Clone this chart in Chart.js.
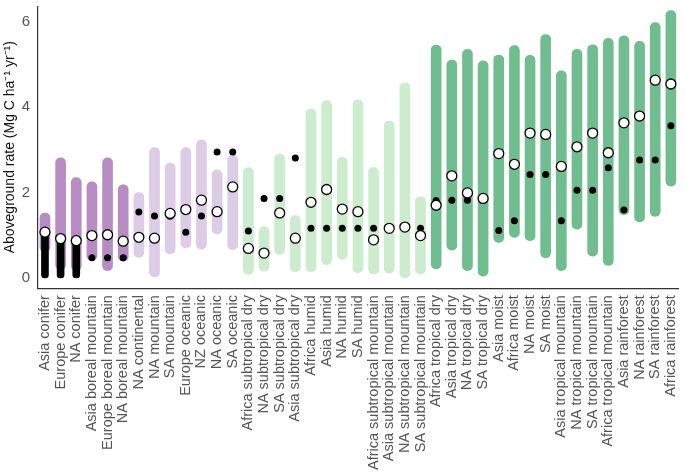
<!DOCTYPE html>
<html>
<head>
<meta charset="utf-8">
<script src="https://cdn.jsdelivr.net/npm/chart.js@4/dist/chart.umd.min.js"></script>
<style>
  html, body { margin: 0; padding: 0; background: #fff; }
  #wrap { width: 685px; height: 472px; }
</style>
</head>
<body>
<div id="wrap"><canvas id="chart"></canvas></div>
<script>
// 생태구역별 지상부 탄소 축적률

const categories = [
  "Asia conifer", "Europe conifer", "NA conifer", "Asia boreal mountain",
  "Europe boreal mountain", "NA boreal mountain",
  "NA continental", "NA mountain", "SA mountain", "Europe oceanic",
  "NZ oceanic", "NA oceanic", "SA oceanic",
  "Africa subtropical dry", "NA subtropical dry", "SA subtropical dry",
  "Asia subtropical dry", "Africa humid", "Asia humid", "NA humid", "SA humid",
  "Africa subtropical mountain", "Asia subtropical mountain",
  "NA subtropical mountain", "SA subtropical mountain",
  "Africa tropical dry", "Asia tropical dry", "NA tropical dry", "SA tropical dry",
  "Asia moist", "Africa moist", "NA moist", "SA moist",
  "Asia tropical mountain", "NA tropical mountain", "SA tropical mountain",
  "Africa tropical mountain", "Asia rainforest", "NA rainforest",
  "SA rainforest", "Africa rainforest",
];

// 범위 (하한, 상한)
const rangeLow = [
  0.61, 0.19, 0.17, 0.41, 0.17, 0.39,
  0.48, 0.02, 0.56, 0.70, 0.67, 1.03, 0.66,
  0.08, 0.16, 0.55, 0.14, 0.14, 0.31, 0.43, 0.12, 0.09, 0.11, 0.00, 0.09,
  0.21, 0.65, 0.17, 0.04, 0.83, 0.95, 0.87, 0.47, 0.17, 1.14, 0.51, 0.29,
  1.48, 1.31, 1.44, 2.15,
];
const rangeHigh = [
  1.52, 2.81, 2.35, 2.25, 2.81, 2.18,
  2.00, 3.05, 2.69, 3.05, 3.23, 2.53, 2.88,
  2.58, 1.20, 2.90, 1.46, 3.95, 4.15, 2.82, 4.17, 2.58, 3.67, 4.57, 1.90,
  5.45, 5.10, 5.35, 5.08, 5.22, 5.44, 5.21, 5.70, 4.85, 5.35, 5.46, 5.61,
  5.67, 5.54, 5.98, 6.26,
];

// 흰 원 (평균)
const meanValues = [
  1.07, 0.92, 0.87, 0.99, 1.01, 0.86,
  0.95, 0.93, 1.51, 1.60, 1.82, 1.55, 2.13,
  0.69, 0.58, 1.52, 0.93, 1.77, 2.07, 1.61, 1.55, 0.89, 1.16, 1.19, 0.99,
  1.70, 2.39, 1.99, 1.86, 2.91, 2.66, 3.39, 3.36, 2.61, 3.07, 3.39, 2.93,
  3.63, 3.79, 4.63, 4.54,
];

// 검은 점
const dotValues = [
  null, null, null, 0.47, 0.47, 0.47,
  1.54, 1.45, 1.44, 1.07, 1.45, 2.95, 2.95,
  1.10, 1.86, 1.86, 2.81, 1.16, 1.16, 1.16, 1.16, 1.16, 1.16, 1.16, 1.16,
  1.81, 1.82, 1.82, 1.86, 1.11, 1.34, 2.42, 2.42, 1.34, 2.05, 2.05, 2.58,
  1.59, 2.76, 2.76, 3.56,
];

// 침엽수 구역의 겹친 검은 점 범위
const stackLow = [0, 0, 0];
const stackHigh = [1.02, 1.0, 0.98];

// 그룹 크기
const groupSizes = [6, 7, 12, 16];
const groupColors = ["#b68cc3", "#dccce5", "#cdebcd", "#70be8f"];

const barColors = [];
groupSizes.forEach((n, i) => {
  for (let k = 0; k < n; k++) barColors.push(groupColors[i]);
});

const rangeData = categories.map((c, i) => [rangeLow[i], rangeHigh[i]]);
const stackData = categories.map((c, i) =>
  i < stackLow.length ? [stackLow[i], stackHigh[i]] : null
);

const ctx = document.getElementById("chart").getContext("2d");
new Chart(ctx, {
  data: {
    labels: categories,
    datasets: [
      {
        type: "line",
        label: "mean",
        data: meanValues,
        showLine: false,
        pointRadius: 5,
        pointHoverRadius: 5,
        pointBackgroundColor: "#ffffff",
        pointBorderColor: "#000000",
        pointBorderWidth: 1.3,
        order: 0,
      },
      {
        type: "line",
        label: "dot",
        data: dotValues,
        showLine: false,
        pointRadius: 3.5,
        pointHoverRadius: 3.5,
        pointBackgroundColor: "#000000",
        pointBorderColor: "#000000",
        pointBorderWidth: 0,
        order: 1,
      },
      {
        type: "bar",
        label: "stack",
        data: stackData,
        backgroundColor: "#000000",
        barThickness: 7,
        borderRadius: 4,
        borderSkipped: false,
        grouped: false,
        order: 2,
      },
      {
        type: "bar",
        label: "range",
        data: rangeData,
        backgroundColor: barColors,
        barThickness: 10,
        borderRadius: 5,
        borderSkipped: false,
        grouped: false,
        order: 3,
      },
    ],
  },
  options: {
    responsive: true,
    maintainAspectRatio: false,
    animation: false,
    layout: {
      padding: { top: 0, right: 0, left: 2, bottom: 0 },
    },
    plugins: {
      legend: { display: false },
      title: { display: false },
      tooltip: { enabled: false },
    },
    scales: {
      x: {
        type: "category",
        grid: {
          display: false,
          drawTicks: true,
          tickLength: 5,
          tickColor: "#333333",
        },
        border: { color: "#333333", width: 1.2 },
        // 회전 라벨용 좌우 여백 제거
        afterFit: (axis) => {
          axis.paddingLeft = 0;
          axis.paddingRight = 0;
        },
        ticks: {
          minRotation: 90,
          maxRotation: 90,
          autoSkip: false,
          color: "#555555",
          padding: 2,
          font: { family: "Liberation Sans, Arial, sans-serif", size: 14.5 },
        },
      },
      y: {
        min: -0.24,
        max: 6.36,
        grid: {
          display: false,
          drawTicks: true,
          tickLength: 4,
          tickColor: "#333333",
        },
        border: { color: "#333333", width: 1.2 },
        afterBuildTicks: (axis) => {
          axis.ticks = [0, 2, 4, 6].map((v) => ({ value: v }));
        },
        // 맨 위 눈금 라벨용 여백 제거
        afterFit: (axis) => {
          axis.paddingTop = 0;
        },
        ticks: {
          color: "#555555",
          padding: 3,
          font: { family: "Liberation Sans, Arial, sans-serif", size: 15 },
        },
        title: {
          display: true,
          text: "Aboveground rate (Mg C ha\u207B\u00B9 yr\u207B\u00B9)",
          color: "#111111",
          padding: { top: 0, bottom: 0 },
          font: { family: "Liberation Sans, Arial, sans-serif", size: 14 },
        },
      },
    },
  },
});
</script>
</body>
</html>
